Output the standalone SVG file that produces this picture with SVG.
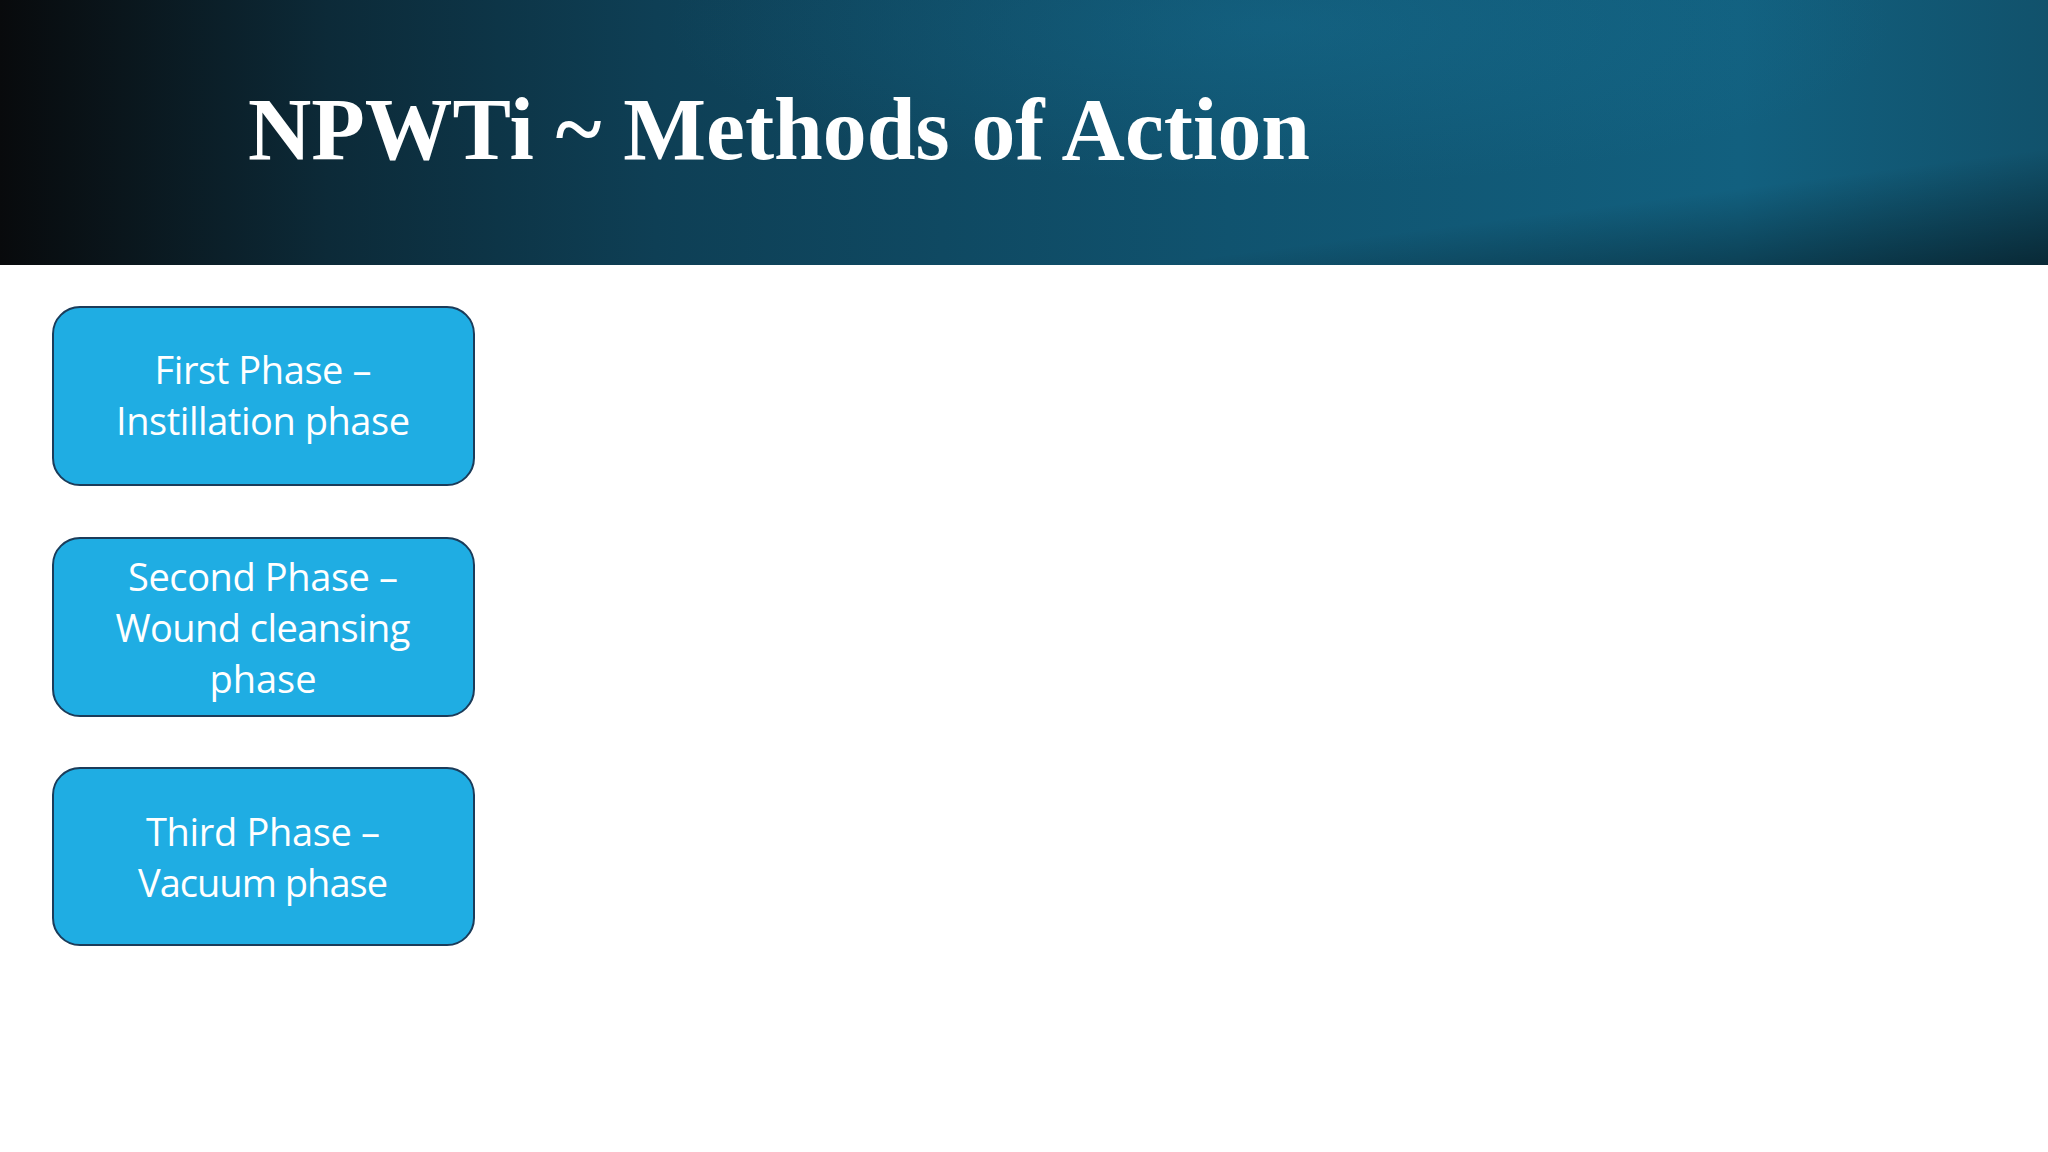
<svg xmlns="http://www.w3.org/2000/svg" width="2048" height="1152" viewBox="0 0 2048 1152">
  <defs>
    <linearGradient id="hdr" x1="0" y1="0" x2="1" y2="0">
      <stop offset="0" stop-color="#080a0c"/>
      <stop offset="0.06" stop-color="#0a161c"/>
      <stop offset="0.16" stop-color="#0c2a38"/>
      <stop offset="0.32" stop-color="#0e3f55"/>
      <stop offset="0.6" stop-color="#10536f"/>
      <stop offset="0.85" stop-color="#12607f"/>
      <stop offset="1" stop-color="#11526c"/>
    </linearGradient>
    <radialGradient id="shade" cx="0.75" cy="0.1" r="0.6" gradientTransform="translate(0.25,0) scale(0.5,1)">
      <stop offset="0" stop-color="#1a7aa0" stop-opacity="0.3"/>
      <stop offset="1" stop-color="#1a7aa0" stop-opacity="0"/>
    </radialGradient>
    <linearGradient id="corner" x1="0" y1="0" x2="1" y2="1">
      <stop offset="0.78" stop-color="#000" stop-opacity="0"/>
      <stop offset="1" stop-color="#000" stop-opacity="0.5"/>
    </linearGradient>
    <style>
      .box { fill: #1fade3; stroke: #1b3c5a; stroke-width: 2; }
      .lbl { font-family: "Open Sans", "Liberation Sans", sans-serif; font-size: 38px; fill: #ffffff; text-anchor: middle; }
      .title { font-family: "Liberation Serif", "DejaVu Serif", serif; font-weight: bold; font-size: 88px; fill: #ffffff; }
    </style>
  </defs>
  <rect x="0" y="0" width="2048" height="1152" fill="#ffffff"/>
  <g id="header">
    <rect x="0" y="0" width="2048" height="265" fill="url(#hdr)"/>
    <rect x="0" y="0" width="2048" height="265" fill="url(#shade)"/>
    <rect x="0" y="0" width="2048" height="265" fill="url(#corner)"/>
    <text class="title" x="248" y="159" textLength="1062" lengthAdjust="spacingAndGlyphs">NPWTi ~ Methods of Action</text>
  </g>
  <g id="node-first">
    <rect class="box" x="53" y="307" width="421" height="178" rx="27" ry="27"/>
    <text class="lbl" x="263" y="384" textLength="217">First Phase –</text>
    <text class="lbl" x="263" y="435" textLength="294">Instillation phase</text>
  </g>
  <g id="node-second">
    <rect class="box" x="53" y="538" width="421" height="178" rx="27" ry="27"/>
    <text class="lbl" x="263" y="591" textLength="270">Second Phase –</text>
    <text class="lbl" x="263" y="642" textLength="295">Wound cleansing</text>
    <text class="lbl" x="263" y="693">phase</text>
  </g>
  <g id="node-third">
    <rect class="box" x="53" y="768" width="421" height="177" rx="27" ry="27"/>
    <text class="lbl" x="263" y="846" textLength="234">Third Phase –</text>
    <text class="lbl" x="263" y="897" textLength="250">Vacuum phase</text>
  </g>
  <g id="connectors"/>
</svg>
